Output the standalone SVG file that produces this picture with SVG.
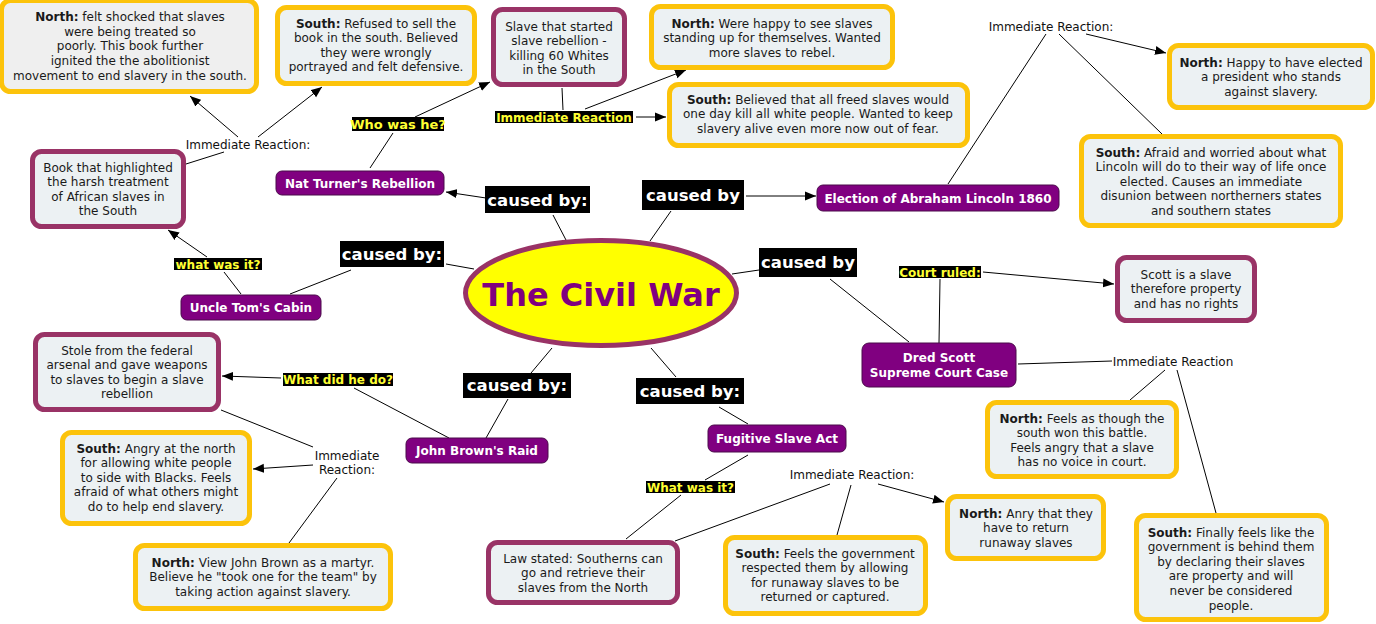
<svg xmlns="http://www.w3.org/2000/svg" width="1376" height="624" viewBox="0 0 1376 624">
<style>
.y{fill:#ecf1f3;stroke:#fcc30b;stroke-width:5}
.m{fill:#ecf1f3;stroke:#993366;stroke-width:5}
.p{fill:#800080;stroke:#4a0a4a;stroke-width:1}
.k{fill:#000}
text{font-family:"DejaVu Sans",Verdana,sans-serif;text-anchor:middle}
.t{font-size:12px;fill:#1a1a1a}
.t tspan.b{font-weight:bold}
.pw{font-size:12px;font-weight:bold;fill:#fff}
.cb{font-size:16.5px;font-weight:bold;fill:#fff}
.hl{font-size:12px;font-weight:bold;fill:#ffff33}
.c line{stroke:#000;stroke-width:1}
.c line.a{marker-end:url(#ar)}
</style>
<defs>
<marker id="ar" markerUnits="userSpaceOnUse" markerWidth="12" markerHeight="10" refX="11" refY="5" orient="auto">
<path d="M0,0.5 L11,5 L0,9.5 z" fill="#000"/>
</marker>
</defs>
<rect width="1376" height="624" fill="#fff"/>

<g class="c" id="connectors">
<line class="a" x1="238" y1="137" x2="190" y2="96"/>
<line class="a" x1="258" y1="137" x2="322" y2="87"/>
<line x1="186" y1="164" x2="224" y2="152"/>
<line x1="370" y1="168" x2="393" y2="133"/>
<line class="a" x1="415" y1="117" x2="490" y2="82"/>
<line x1="562" y1="88" x2="563" y2="110"/>
<line class="a" x1="585" y1="109" x2="686" y2="70"/>
<line class="a" x1="636" y1="117" x2="666" y2="117"/>
<line class="a" x1="486" y1="198" x2="446" y2="192"/>
<line x1="553" y1="215" x2="566" y2="240"/>
<line x1="671" y1="211" x2="650" y2="241"/>
<line class="a" x1="746" y1="196" x2="816" y2="196"/>
<line x1="948" y1="184" x2="1046" y2="34"/>
<line x1="1059" y1="34" x2="1162" y2="134"/>
<line class="a" x1="1086" y1="34" x2="1166" y2="53"/>
<line class="a" x1="207" y1="257" x2="168" y2="230"/>
<line x1="224" y1="272" x2="241" y2="294"/>
<line x1="290" y1="294" x2="351" y2="270"/>
<line x1="446" y1="264" x2="474" y2="269"/>
<line x1="759" y1="270" x2="732" y2="274"/>
<line x1="830" y1="279" x2="909" y2="342"/>
<line x1="940" y1="279" x2="939" y2="343"/>
<line class="a" x1="983" y1="272" x2="1114" y2="284"/>
<line x1="1018" y1="364" x2="1112" y2="361"/>
<line x1="1165" y1="370" x2="1130" y2="400"/>
<line x1="1177" y1="370" x2="1216" y2="513"/>
<line x1="552" y1="348" x2="531" y2="373"/>
<line x1="508" y1="399" x2="486" y2="438"/>
<line class="a" x1="281" y1="378" x2="222" y2="376"/>
<line x1="354" y1="388" x2="449" y2="438"/>
<line x1="221" y1="410" x2="313" y2="447"/>
<line class="a" x1="313" y1="465" x2="253" y2="469"/>
<line x1="337" y1="478" x2="289" y2="543"/>
<line x1="651" y1="348" x2="676" y2="377"/>
<line x1="719" y1="407" x2="748" y2="424"/>
<line x1="748" y1="455" x2="705" y2="480"/>
<line x1="681" y1="495" x2="626" y2="539"/>
<line x1="675" y1="541" x2="830" y2="484"/>
<line x1="851" y1="485" x2="837" y2="535"/>
<line class="a" x1="878" y1="484" x2="944" y2="502"/>
</g>

<g id="civil-war">
<ellipse cx="601" cy="293" rx="135.5" ry="52.5" fill="#ffff00" stroke="#993366" stroke-width="5"/>
<text x="601" y="306" style="font-size:32px;font-weight:bold;fill:#800080">The Civil War</text>
</g>

<g id="north-uncle">
<rect x="1.5" y="0.5" width="255" height="91" rx="9" class="y" style="fill:#efefef"/>
<text class="t" x="130" y="21"><tspan class="b">North:</tspan> felt shocked that slaves<tspan x="130" dy="14.7">were being treated so</tspan><tspan x="130" dy="14.7">poorly. This book further</tspan><tspan x="130" dy="14.7">ignited the the abolitionist</tspan><tspan x="130" dy="14.7">movement to end slavery in the south.</tspan></text>
</g>
<g id="south-uncle">
<rect x="277.5" y="7.5" width="197" height="76" rx="9" class="y"/>
<text class="t" x="376" y="27.5"><tspan class="b">South:</tspan> Refused to sell the<tspan x="376" dy="14.6">book in the south. Believed</tspan><tspan x="376" dy="14.6">they were wrongly</tspan><tspan x="376" dy="14.6">portrayed and felt defensive.</tspan></text>
</g>
<g id="slave-rebellion">
<rect x="493.5" y="9.5" width="131" height="75" rx="9" class="m"/>
<text class="t" x="559" y="30.5">Slave that started<tspan x="559" dy="14.6">slave rebellion -</tspan><tspan x="559" dy="14.6">killing 60 Whites</tspan><tspan x="559" dy="14.6">in the South</tspan></text>
</g>
<g id="north-nat">
<rect x="651.5" y="6.5" width="241" height="61" rx="9" class="y"/>
<text class="t" x="772" y="27.5"><tspan class="b">North:</tspan> Were happy to see slaves<tspan x="772" dy="14.6">standing up for themselves. Wanted</tspan><tspan x="772" dy="14.6">more slaves to rebel.</tspan></text>
</g>
<g id="south-nat">
<rect x="669.5" y="84.5" width="298" height="61" rx="9" class="y"/>
<text class="t" x="818" y="103.5"><tspan class="b">South:</tspan> Believed that all freed slaves would<tspan x="818" dy="14.6">one day kill all white people. Wanted to keep</tspan><tspan x="818" dy="14.6">slavery alive even more now out of fear.</tspan></text>
</g>
<g id="ir-nat">
<rect x="495" y="111" width="138" height="12" class="k"/>
<text class="hl" x="564" y="121.5">Immediate Reaction</text>
</g>
<g id="cb-nat">
<rect x="485" y="186" width="105" height="27" class="k"/>
<text class="cb" x="537.5" y="205.5">caused by:</text>
</g>
<g id="cb-lincoln">
<rect x="642" y="180" width="102" height="30" class="k"/>
<text class="cb" x="693" y="200.5">caused by</text>
</g>
<g id="election">
<rect x="817" y="185" width="242" height="26" rx="6" class="p"/>
<text class="pw" x="938" y="202.5">Election of Abraham Lincoln 1860</text>
</g>
<g id="ir-lincoln">
<text class="t" x="1051" y="30.5" style="fill:#111">Immediate Reaction:</text>
</g>
<g id="north-lincoln">
<rect x="1169.5" y="45.5" width="203" height="62" rx="9" class="y"/>
<text class="t" x="1271" y="66.5"><tspan class="b">North:</tspan> Happy to have elected<tspan x="1271" dy="14.6">a president who stands</tspan><tspan x="1271" dy="14.6">against slavery.</tspan></text>
</g>
<g id="south-lincoln">
<rect x="1081.5" y="136.5" width="259" height="89" rx="9" class="y"/>
<text class="t" x="1211" y="156.5"><tspan class="b">South:</tspan> Afraid and worried about what<tspan x="1211" dy="14.5">Lincoln will do to their way of life once</tspan><tspan x="1211" dy="14.5">elected. Causes an immediate</tspan><tspan x="1211" dy="14.5">disunion between northerners states</tspan><tspan x="1211" dy="14.5">and southern states</tspan></text>
</g>
<g id="nat-turner">
<rect x="276" y="171" width="168" height="24" rx="6" class="p"/>
<text class="pw" x="360" y="187.5">Nat Turner's Rebellion</text>
</g>
<g id="who-was-he">
<rect x="352" y="117" width="92" height="14" class="k"/>
<text class="hl" x="398" y="128.5" style="font-size:13px">Who was he?</text>
</g>
<g id="book">
<rect x="32.5" y="151.5" width="151" height="75" rx="9" class="m"/>
<text class="t" x="108" y="171.5">Book that highlighted<tspan x="108" dy="14.5">the harsh treatment</tspan><tspan x="108" dy="14.5">of African slaves in</tspan><tspan x="108" dy="14.5">the South</tspan></text>
</g>
<g id="ir-uncle">
<text class="t" x="248" y="148.5" style="fill:#111">Immediate Reaction:</text>
</g>
<g id="cb-uncle">
<rect x="340" y="241" width="104" height="26" class="k"/>
<text class="cb" x="392" y="259.5">caused by:</text>
</g>
<g id="what-was-it">
<rect x="174" y="258" width="88" height="12" class="k"/>
<text class="hl" x="218" y="268.5">what was it?</text>
</g>
<g id="uncle-tom">
<rect x="181" y="295" width="140" height="25" rx="6" class="p"/>
<text class="pw" x="251" y="311.5">Uncle Tom's Cabin</text>
</g>
<g id="stole">
<rect x="35.5" y="334.5" width="183" height="75" rx="9" class="m"/>
<text class="t" x="127" y="354.5">Stole from the federal<tspan x="127" dy="14.5">arsenal and gave weapons</tspan><tspan x="127" dy="14.5">to slaves to begin a slave</tspan><tspan x="127" dy="14.5">rebellion</tspan></text>
</g>
<g id="what-did-he-do">
<rect x="283" y="373" width="110" height="13" class="k"/>
<text class="hl" x="338" y="384">What did he do?</text>
</g>
<g id="cb-dred">
<rect x="759" y="248" width="98" height="29" class="k"/>
<text class="cb" x="808" y="268">caused by</text>
</g>
<g id="cb-brown">
<rect x="463" y="373" width="108" height="25" class="k"/>
<text class="cb" x="517" y="391">caused by:</text>
</g>
<g id="cb-fugitive">
<rect x="636" y="378" width="108" height="26" class="k"/>
<text class="cb" x="690" y="396.5">caused by:</text>
</g>
<g id="fugitive">
<rect x="708" y="425" width="138" height="27" rx="6" class="p"/>
<text class="pw" x="777" y="442.5">Fugitive Slave Act</text>
</g>
<g id="john-brown">
<rect x="406" y="438" width="142" height="25" rx="6" class="p"/>
<text class="pw" x="477" y="455">John Brown's Raid</text>
</g>
<g id="ir-brown">
<text class="t" x="347" y="459.5" style="fill:#111">Immediate<tspan x="347" dy="14">Reaction:</tspan></text>
</g>
<g id="south-brown">
<rect x="62.5" y="432.5" width="187" height="91" rx="9" class="y"/>
<text class="t" x="156" y="452.5"><tspan class="b">South:</tspan> Angry at the north<tspan x="156" dy="14.5">for allowing white people</tspan><tspan x="156" dy="14.5">to side with Blacks. Feels</tspan><tspan x="156" dy="14.5">afraid of what others might</tspan><tspan x="156" dy="14.5">do to help end slavery.</tspan></text>
</g>
<g id="north-brown">
<rect x="135.5" y="545.5" width="255" height="63" rx="9" class="y"/>
<text class="t" x="263" y="566.5"><tspan class="b">North:</tspan> View John Brown as a martyr.<tspan x="263" dy="14.8">Believe he "took one for the team" by</tspan><tspan x="263" dy="14.8">taking action against slavery.</tspan></text>
</g>
<g id="what-was-it-f">
<rect x="646" y="481" width="89" height="12" class="k"/>
<text class="hl" x="690.5" y="491.5">What was it?</text>
</g>
<g id="ir-fugitive">
<text class="t" x="852" y="478.5" style="fill:#111">Immediate Reaction:</text>
</g>
<g id="law">
<rect x="488.5" y="542.5" width="189" height="60" rx="9" class="m"/>
<text class="t" x="583" y="562.5">Law stated: Southerns can<tspan x="583" dy="14.6">go and retrieve their</tspan><tspan x="583" dy="14.6">slaves from the North</tspan></text>
</g>
<g id="south-fugitive">
<rect x="725.5" y="537.5" width="200" height="76" rx="9" class="y"/>
<text class="t" x="825" y="557.5"><tspan class="b">South:</tspan> Feels the government<tspan x="825" dy="14.6">respected them by allowing</tspan><tspan x="825" dy="14.6">for runaway slaves to be</tspan><tspan x="825" dy="14.6">returned or captured.</tspan></text>
</g>
<g id="north-fugitive">
<rect x="947.5" y="496.5" width="156" height="62" rx="9" class="y"/>
<text class="t" x="1026" y="517.5"><tspan class="b">North:</tspan> Anry that they<tspan x="1026" dy="14.6">have to return</tspan><tspan x="1026" dy="14.6">runaway slaves</tspan></text>
</g>
<g id="south-dred">
<rect x="1136.5" y="515.5" width="190" height="104" rx="9" class="y"/>
<text class="t" x="1231" y="536.5"><tspan class="b">South:</tspan> Finally feels like the<tspan x="1231" dy="14.6">government is behind them</tspan><tspan x="1231" dy="14.6">by declaring their slaves</tspan><tspan x="1231" dy="14.6">are property and will</tspan><tspan x="1231" dy="14.6">never be considered</tspan><tspan x="1231" dy="14.6">people.</tspan></text>
</g>
<g id="court-ruled">
<rect x="899" y="266" width="82" height="12" class="k"/>
<text class="hl" x="940" y="276.5">Court ruled:</text>
</g>
<g id="scott">
<rect x="1117.5" y="257.5" width="137" height="63" rx="9" class="m"/>
<text class="t" x="1186" y="278.5">Scott is a slave<tspan x="1186" dy="14.6">therefore property</tspan><tspan x="1186" dy="14.6">and has no rights</tspan></text>
</g>
<g id="dred-scott">
<rect x="862" y="343" width="154" height="44" rx="7" class="p"/>
<text class="pw" x="939" y="361.5">Dred Scott<tspan x="939" dy="15">Supreme Court Case</tspan></text>
</g>
<g id="ir-dred">
<text class="t" x="1173" y="365.5" style="fill:#111">Immediate Reaction</text>
</g>
<g id="north-dred">
<rect x="987.5" y="402.5" width="189" height="74" rx="9" class="y"/>
<text class="t" x="1082" y="422.5"><tspan class="b">North:</tspan> Feels as though the<tspan x="1082" dy="14.6">south won this battle.</tspan><tspan x="1082" dy="14.6">Feels angry that a slave</tspan><tspan x="1082" dy="14.6">has no voice in court.</tspan></text>
</g>
</svg>
